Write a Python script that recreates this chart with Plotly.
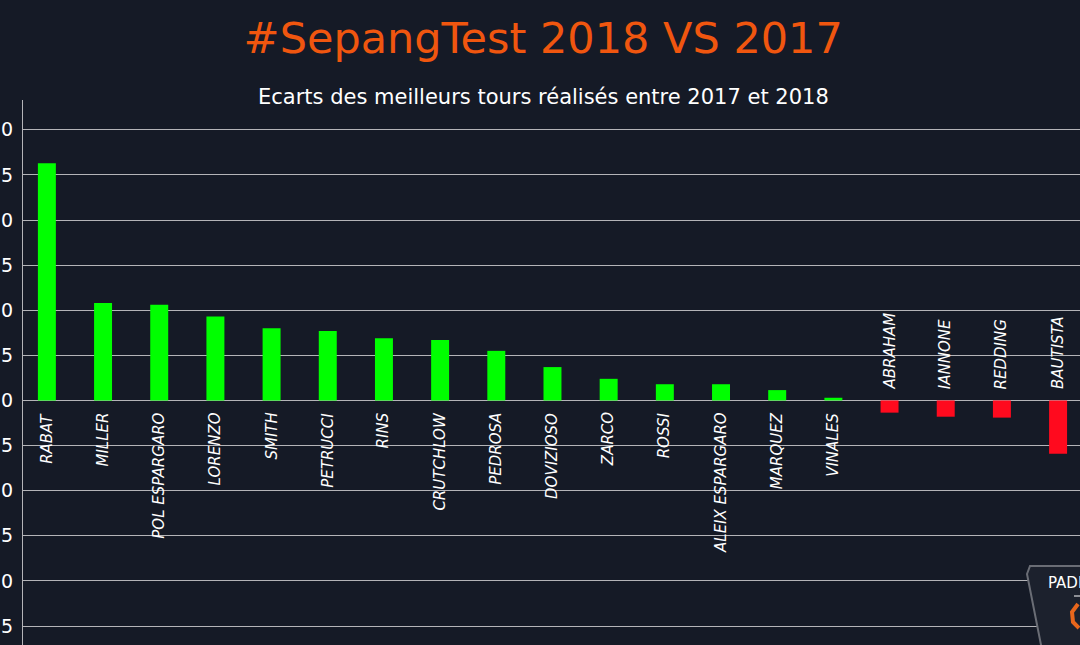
import plotly.graph_objects as go

riders = ["RABAT", "MILLER", "POL ESPARGARO", "LORENZO", "SMITH", "PETRUCCI", "RINS",
          "CRUTCHLOW", "PEDROSA", "DOVIZIOSO", "ZARCO", "ROSSI", "ALEIX ESPARGARO",
          "MARQUEZ", "VINALES", "ABRAHAM", "IANNONE", "REDDING", "BAUTISTA"]
gaps = [2.63, 1.08, 1.06, 0.93, 0.80, 0.77, 0.69, 0.67, 0.55, 0.37, 0.24, 0.18, 0.18,
        0.115, 0.03, -0.135, -0.18, -0.19, -0.59]
y_ticks = [-2.5, -2.0, -1.5, -1.0, -0.5, 0.0, 0.5, 1.0, 1.5, 2.0, 2.5, 3.0]

title_text = "#SepangTest 2018 VS 2017"
subtitle_text = "Ecarts des meilleurs tours réalisés entre 2017 et 2018"

BG = "#151a26"
GREEN = "#00ff00"
RED = "#ff0a1e"
GRID = "#b4b4b8"

W, H = 1080, 645
L, T = 23, 100
PW, PH = W - L, H - T


def px(x):
    return (x - L) / PW


def py(y):
    return (H - y) / PH


colors = [GREEN if v >= 0 else RED for v in gaps]

fig = go.Figure(go.Bar(x=riders, y=gaps, marker=dict(color=colors, line=dict(width=0)),
                       width=0.32, hoverinfo="x+y"))

annotations = []
for name, v in zip(riders, gaps):
    annotations.append(dict(
        x=name, y=0, xref="x", yref="y", text=name, showarrow=False, textangle=-90,
        xanchor="center", yanchor="top" if v >= 0 else "bottom",
        yshift=-10 if v >= 0 else 9,
        font=dict(family="DejaVu Sans", size=15, color="white", style="italic"),
    ))

annotations.append(dict(
    x=px(543), y=py(97), xref="paper", yref="paper", text=subtitle_text,
    showarrow=False, xanchor="center", yanchor="middle",
    font=dict(family="DejaVu Sans", size=21, color="white"),
))

# logo badge
annotations.append(dict(
    x=px(1046), y=py(583), xref="paper", yref="paper", text="PADDOCK",
    showarrow=False, xanchor="left", yanchor="middle",
    font=dict(family="DejaVu Sans", size=15, color="white"),
))

shapes = [
    dict(type="path", xref="paper", yref="paper",
         path=(f"M {px(1030)} {py(566)} L {px(1090)} {py(566)} L {px(1090)} {py(650)} "
               f"L {px(1042)} {py(650)} L {px(1027)} {py(574)} Z"),
         fillcolor="#1c212d", line=dict(color="#6a6d75", width=2), layer="above"),
    dict(type="line", xref="paper", yref="paper", x0=px(1074), x1=px(1080),
         y0=py(596), y1=py(596), line=dict(color="white", width=1), layer="above"),
    dict(type="path", xref="paper", yref="paper",
         path=(f"M {px(1078)} {py(604)} L {px(1072)} {py(612)} L {px(1073)} {py(622)} "
               f"L {px(1079)} {py(628)}"),
         line=dict(color="#e8661c", width=4), layer="above"),
]

fig.update_layout(
    width=W, height=H,
    margin=dict(l=L, r=0, t=T, b=0, pad=0),
    paper_bgcolor=BG, plot_bgcolor=BG,
    title=dict(text=title_text, x=0.503, xanchor="center", xref="container",
               y=1 - 38 / H, yanchor="middle", yref="container",
               font=dict(family="DejaVu Sans", size=43, color="#f0560f")),
    showlegend=False,
    bargap=0.68,
    annotations=annotations,
    shapes=shapes,
    xaxis=dict(range=[-0.425, 18.39], showticklabels=False, showgrid=False,
               zeroline=False, showline=False, ticks="", automargin=False),
    yaxis=dict(range=[-2.71, 3.33], tickvals=y_ticks, tickformat=".1f",
               showgrid=True, gridcolor=GRID, gridwidth=1,
               zeroline=True, zerolinecolor=GRID, zerolinewidth=1,
               showline=True, linecolor=GRID, linewidth=1, ticks="",
               ticklabelstandoff=5, automargin=False,
               tickfont=dict(family="DejaVu Sans", size=19, color="white")),
)

fig.write_html("out.html", config={"displayModeBar": False},
               post_script="document.body.style.margin='0';document.body.style.background='%s';" % BG)
